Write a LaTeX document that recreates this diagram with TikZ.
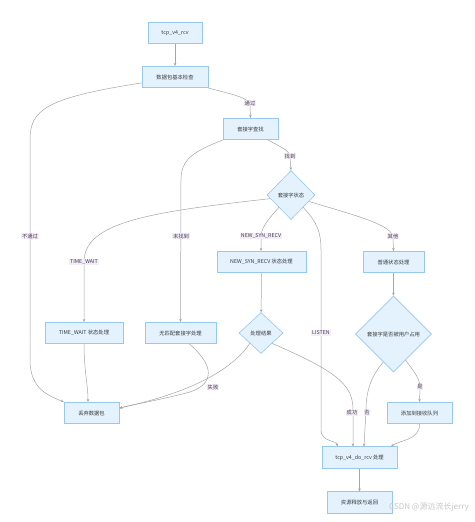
\documentclass[tikz,border=0pt]{standalone}
\usepackage{fontspec}
\setmainfont{Noto Sans CJK SC}
\usetikzlibrary{shapes.geometric,arrows.meta}
\definecolor{nfill}{RGB}{227,242,253}
\definecolor{ndraw}{RGB}{150,200,240}
\definecolor{edgec}{RGB}{165,165,165}
\definecolor{lblc}{RGB}{80,50,100}
\definecolor{lblbg}{RGB}{240,240,242}
\definecolor{txtc}{RGB}{60,60,60}
\begin{document}
\begin{tikzpicture}[x=1pt,y=-1pt,
  nfont/.style={font=\fontsize{5.3}{6}\selectfont},
  box/.style={draw=ndraw, fill=nfill, line width=0.6pt, minimum height=21.5pt, inner sep=1pt, text=txtc, nfont},
  dia/.style={diamond, draw=ndraw, fill=nfill, line width=0.6pt, inner sep=0pt, text=txtc, nfont},
  edge/.style={draw=edgec, line width=0.5pt, -{Stealth[length=3pt,width=2.6pt]}},
  lbl/.style={fill=lblbg, inner sep=0.8pt, text=lblc, nfont}]
\useasboundingbox[fill=white] (0,0) rectangle (474,522);

% nodes
\node[box, minimum width=54pt] (rcv) at (175,33) {tcp\_v4\_rcv};
\node[box, minimum width=66pt] (check) at (175,77) {数据包基本检查};
\node[box, minimum width=55pt] (chaz) at (250.5,129) {套接字查找};
\node[dia, minimum width=48pt, minimum height=49pt] (state) at (291,195) {套接字状态};
\node[box, minimum width=89pt] (nsr) at (261.5,262) {NEW\_SYN\_RECV 状态处理};
\node[box, minimum width=61pt] (normal) at (393.5,262) {普通状态处理};
\node[box, minimum width=78pt] (tw) at (84,333) {TIME\_WAIT 状态处理};
\node[box, minimum width=71pt] (nomatch) at (180.5,333) {无匹配套接字处理};
\node[dia, minimum width=44pt, minimum height=41pt] (result) at (261,333) {处理结果};
\node[dia, minimum width=76pt, minimum height=76pt] (occ) at (393.5,334) {套接字是否被用户占用};
\node[box, minimum width=55pt] (drop) at (91.5,413) {丢弃数据包};
\node[box, minimum width=65pt] (add) at (419.5,413) {添加到接收队列};
\node[box, minimum width=75pt] (dorcv) at (359.5,457.5) {tcp\_v4\_do\_rcv 处理};
\node[box, minimum width=65pt] (free) at (359.5,502.5) {资源释放与返回};

% edges
\draw[edge] (rcv) -- (check);
\draw[edge] (check.south east) .. controls (235,95) and (250,98) .. (250,106) -- (chaz.north);
\draw[edge] (check.190) .. controls (45,98) and (30,110) .. (30,140) -- (30,360)
   .. controls (30,390) and (50,396) .. (drop.north west);
\draw[edge] ([xshift=-10pt]chaz.south east) .. controls (282,148) and (290,150) .. (290,158) -- (state.north);
\draw[edge] (chaz.south west) .. controls (192,152) and (181,160) .. (181,180) -- (nomatch.north);
\draw[edge] (state.190) .. controls (150,212) and (84,222) .. (84,262) -- (tw.north);
\draw[edge] (state.south west) .. controls (266,222) and (261,228) .. (261,238) -- ([xshift=-0.5pt]nsr.north);
\draw[edge] (state.south east) .. controls (317,222) and (321,232) .. (321,250) -- (321,430)
   .. controls (321,442) and (336,440) .. ([xshift=-22pt]dorcv.north);
\draw[edge] (state.-20) .. controls (365,218) and (393,226) .. (393,238) -- (normal.north);
\draw[edge] (nsr) -- (result);
\draw[edge] (normal) -- (occ);
\draw[edge] (tw.south) .. controls (84,370) and (88,385) .. ([xshift=-3.5pt]drop.north);
\draw[edge] ([xshift=9pt]nomatch.south) .. controls (215,366) and (214,384) .. (190,392)
   .. controls (160,400) and (135,404) .. (drop.10);
\draw[edge] (result.south west) .. controls (225,380) and (165,398) .. (drop.10);
\draw[edge] (result.south east) .. controls (338,372) and (353,385) .. (353,410) -- ([xshift=-6.5pt]dorcv.north);
\draw[edge] (occ.250) .. controls (372,375) and (366,390) .. (366,410) -- ([xshift=4.5pt]dorcv.north);
\draw[edge] (occ.295) .. controls (414,372) and (420,378) .. (420,388) -- (add.north);
\draw[edge] (add.south) .. controls (420,440) and (400,440) .. ([xshift=31.5pt]dorcv.north);
\draw[edge] (dorcv) -- (free);

% edge labels
\node[lbl] (l1) at (250,103) {通过};
\node[lbl] (l2) at (30,236) {不通过};
\node[lbl] (l3) at (290,156) {找到};
\node[lbl] (l4) at (181,236) {未找到};
\node[lbl] (l5) at (84,262) {TIME\_WAIT};
\node[lbl] (l6) at (261,236) {NEW\_SYN\_RECV};
\node[lbl] (l7) at (321,333) {LISTEN};
\node[lbl] (l8) at (393,236) {其他};
\node[lbl] (l9) at (213,387) {失败};
\node[lbl] (l10) at (352,413) {成功};
\node[lbl] (l11) at (367,413) {否};
\node[lbl] (l12) at (420,387) {是};

% watermark
\node[text=black!22, font=\fontsize{8}{9}\selectfont, inner sep=0pt] (wm) at (429,507) {CSDN @源远流长jerry};
\end{tikzpicture}
\end{document}
